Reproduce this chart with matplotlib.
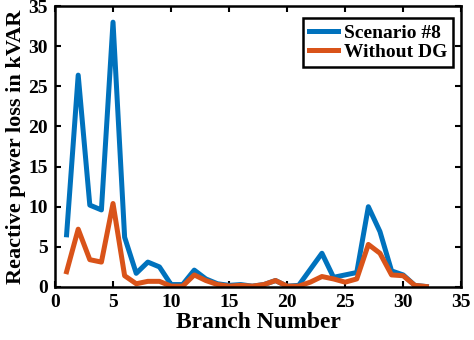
import numpy as np
import matplotlib.pyplot as plt

# branch losses for the 33-bus feeder
branch = np.arange(1, 33)
scenario8 = [6.5, 26.4, 10.2, 9.6, 33.0, 6.2, 1.7, 3.1, 2.5, 0.3,
             0.3, 2.1, 1.0, 0.4, 0.2, 0.3, 0.1, 0.3, 0.8, 0.1,
             0.2, 2.2, 4.2, 1.2, 1.5, 1.8, 10.0, 6.9, 2.0, 1.5,
             0.2, 0.05]
without_dg = [1.9, 7.2, 3.4, 3.1, 10.4, 1.4, 0.4, 0.7, 0.7, 0.1,
              0.1, 1.5, 0.8, 0.3, 0.1, 0.2, 0.1, 0.3, 0.8, 0.1,
              0.1, 0.6, 1.3, 1.0, 0.6, 1.0, 5.3, 4.2, 1.5, 1.4,
              0.2, 0.05]

plt.rcParams['font.family'] = 'Liberation Serif'
plt.rcParams['font.weight'] = 'bold'

fig = plt.figure(figsize=(4.74, 3.4), dpi=100)
ax = fig.add_axes([0.116, 0.156, 0.857, 0.826])

ax.plot(branch, scenario8, color='#0072BD', lw=3.6, label='Scenario #8')
ax.plot(branch, without_dg, color='#D95319', lw=3.6, label='Without DG')

ax.set_xlim(0, 35)
ax.set_ylim(0, 35)
ax.set_xticks(np.arange(0, 36, 5))
ax.set_yticks(np.arange(0, 36, 5))
ax.tick_params(direction='in', top=True, right=True, length=4, width=1.5,
               labelsize=14, pad=5)
for lab in ax.get_xticklabels() + ax.get_yticklabels():
    lab.set_fontweight('bold')
for s in ax.spines.values():
    s.set_linewidth(1.8)

ax.set_xlabel('Branch Number', fontsize=17, fontweight='bold', labelpad=1)
ax.set_ylabel('Reactive power loss in kVAR', fontsize=16, fontweight='bold',
              labelpad=2)

leg = ax.legend(loc='upper right', bbox_to_anchor=(0.98, 0.957),
                borderaxespad=0, frameon=True, fancybox=False,
                handlelength=1.5, handletextpad=0.3, borderpad=0.3,
                labelspacing=0.1, prop={'weight': 'bold', 'size': 14})
leg.get_frame().set_edgecolor('black')
leg.get_frame().set_linewidth(1.8)
leg.get_frame().set_alpha(1)

fig.savefig('out.png', dpi=100)
